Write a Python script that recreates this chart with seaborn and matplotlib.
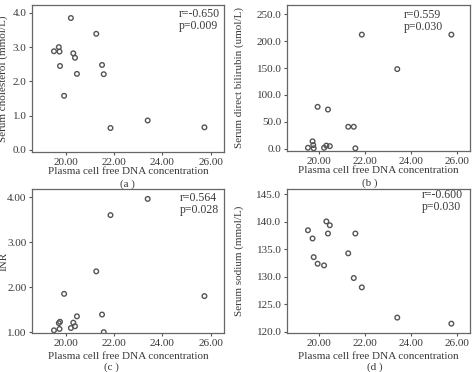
import matplotlib
matplotlib.use("Agg")
import matplotlib.pyplot as plt
import seaborn as sns
import pandas as pd
from matplotlib.ticker import FormatStrFormatter

# ---- data ----
dna = [19.51, 19.71, 19.74, 19.76, 19.93, 20.21, 20.31, 20.38, 20.46,
       21.26, 21.50, 21.57, 21.85, 23.39, 25.74]
cholesterol = [2.88, 3.00, 2.87, 2.45, 1.58, 3.85, 2.82, 2.69, 2.22,
               3.39, 2.48, 2.21, 0.64, 0.86, 0.66]
bilirubin = [2, 14, 7, 1, 78, 2, 6, 73, 5,
             41, 41, 1, 212, 148, 212]
inr = [1.04, 1.20, 1.07, 1.23, 1.85, 1.09, 1.21, 1.13, 1.35,
       2.35, 1.39, 1.00, 3.60, 3.96, 1.80]
dna_d = [19.51, 19.71, 19.76, 19.93, 20.21, 20.31, 20.38, 20.46,
         21.26, 21.50, 21.57, 21.85, 23.39, 25.74]
sodium = [138.5, 137.0, 133.6, 132.4, 132.1, 140.1, 137.9, 139.4,
          134.3, 129.8, 137.9, 128.1, 122.6, 121.5]

xticks = [20.0, 22.0, 24.0, 26.0]
xlabel = "Plasma cell free DNA concentration"
panels = [
    dict(x=dna, y=cholesterol, ylabel="Serum cholesterol (mmol/L)",
         yticks=[0.0, 1.0, 2.0, 3.0, 4.0], yfmt="%.1f", ylim=(-0.06, 4.23),
         stats=("r=-0.650", "p=0.009"), tag="(a )"),
    dict(x=dna, y=bilirubin, ylabel="Serum direct bilirubin (umol/L)",
         yticks=[0, 50, 100, 150, 200, 250], yfmt="%.1f", ylim=(-4, 267),
         stats=("r=0.559", "p=0.030"), tag="(b )"),
    dict(x=dna, y=inr, ylabel="INR",
         yticks=[1.0, 2.0, 3.0, 4.0], yfmt="%.2f", ylim=(0.98, 4.18),
         stats=("r=0.564", "p=0.028"), tag="(c )"),
    dict(x=dna_d, y=sodium, ylabel="Serum sodium (mmol/L)",
         yticks=[120, 125, 130, 135, 140, 145], yfmt="%.1f", ylim=(119.8, 146.0),
         stats=("r=-0.600", "p=0.030"), tag="(d )"),
]

sns.set_style("ticks")
plt.rcParams["font.family"] = ["Liberation Serif", "DejaVu Serif"]
txt = "#3a3a3a"
plt.rcParams["text.color"] = txt
plt.rcParams["axes.labelcolor"] = txt
plt.rcParams["xtick.color"] = "#555555"
plt.rcParams["ytick.color"] = "#555555"
plt.rcParams["xtick.labelcolor"] = txt
plt.rcParams["ytick.labelcolor"] = txt

W, H = 474, 372
fig = plt.figure(figsize=(W / 100, H / 100), dpi=100)

# pixel boxes (left, top, right, bottom)
boxes = [(32, 5, 224, 152), (287, 5, 470, 151), (32, 189, 224, 333), (287, 189, 470, 333)]
stat_pos = [(179, 8), (404, 9), (180, 192), (422, 189)]
tag_pos = [(127, 184), (370, 183), (111, 367), (375, 367)]
ylabel_x = [8.5, 244, 8.5, 244]
xlabel_top = [167, 166, 352, 352]

for p, box, sp, tp, yx, xt in zip(panels, boxes, stat_pos, tag_pos, ylabel_x, xlabel_top):
    l, t, r, b = box
    ax = fig.add_axes([l / W, 1 - b / H, (r - l) / W, (b - t) / H])
    df = pd.DataFrame({"x": p["x"], "y": p["y"]})
    sns.scatterplot(data=df, x="x", y="y", ax=ax, marker="o", s=11,
                    facecolor="none", edgecolor="#555555", linewidth=1.0)
    ax.set_xlim(18.6, 26.55)
    ax.set_ylim(*p["ylim"])
    ax.set_xticks(xticks)
    ax.set_yticks(p["yticks"])
    ax.xaxis.set_major_formatter(FormatStrFormatter("%.2f"))
    ax.yaxis.set_major_formatter(FormatStrFormatter(p["yfmt"]))
    ax.tick_params(length=2.5, width=0.8, labelsize=8, pad=1.5)
    ax.tick_params(axis="x", pad=1.5)
    for s in ax.spines.values():
        s.set_visible(True)
        s.set_color("#666666")
        s.set_linewidth(0.9)
    ax.set_xlabel(xlabel, fontsize=8)
    ax.xaxis.set_label_coords(0.5, -(xt - b) / (b - t))
    ax.set_ylabel(p["ylabel"], fontsize=8)
    ax.yaxis.set_label_coords((yx - l) / (r - l), 0.5)
    fig.text(sp[0] / W, 1 - sp[1] / H, p["stats"][0] + "\n" + p["stats"][1],
             fontsize=8.5, va="top", ha="left", linespacing=1.0)
    fig.text(tp[0] / W, 1 - tp[1] / H, p["tag"], fontsize=8, ha="center", va="center")

fig.savefig("out.png", dpi=100)
